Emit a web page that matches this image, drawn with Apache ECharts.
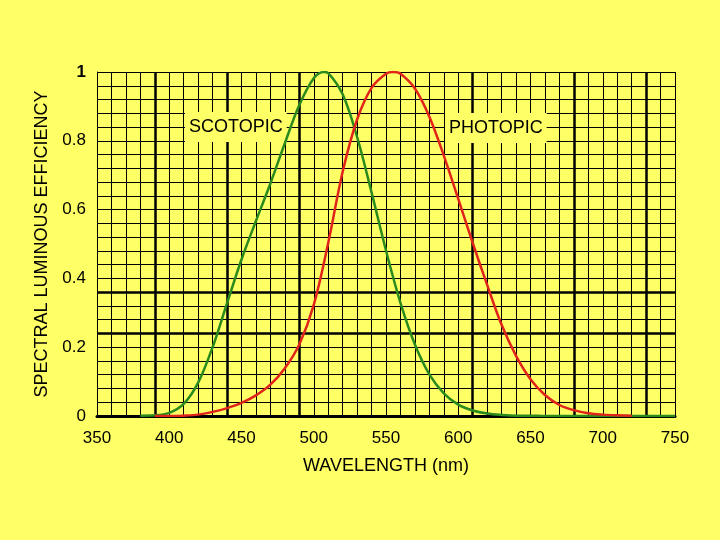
<!DOCTYPE html>
<html>
<head>
<meta charset="utf-8">
<script src="https://cdn.jsdelivr.net/npm/echarts@6/dist/echarts.min.js"></script>
<style>
html,body{margin:0;padding:0;background:#FFFF66;}
#main{width:720px;height:540px;}
</style>
</head>
<body>
<div id="main"></div>
<script>
// scotopic curve (green)
var scotopicNm  = [380,390,400,410,420,430,440,450,460,470,480,490,500,507,510,520,530,540,550,560,570,580,590,600,610,620,630,640,650,660,680,700,720,750];
var scotopicEff = [0.001,0.002,0.009,0.035,0.097,0.200,0.328,0.455,0.567,0.676,0.793,0.904,0.982,1.000,0.997,0.935,0.811,0.650,0.481,0.329,0.208,0.121,0.066,0.033,0.016,0.007,0.003,0.001,0.001,0,0,0,0,0];
// photopic curve (red)
var photopicNm  = [390,400,410,420,430,440,450,460,470,480,490,500,510,520,530,540,550,555,560,570,580,590,600,610,620,630,640,650,660,670,680,690,700,710,720];
var photopicEff = [0.000,0.000,0.001,0.004,0.012,0.023,0.038,0.060,0.091,0.139,0.208,0.323,0.503,0.710,0.862,0.954,0.995,1.000,0.995,0.952,0.870,0.757,0.631,0.503,0.381,0.265,0.175,0.107,0.061,0.032,0.017,0.008,0.004,0.002,0.001];
// heavier rulings of the graph paper
var thickNm  = [390,440,490,610,680,730];
var thickEff = [0.24,0.36];

function pairs(xs, ys){
	var out = [];
	for(var i=0;i<xs.length;i++){
		out.push([xs[i], ys[i]]);
	}
	return out;
}

var thickLines = [];
for(var i=0;i<thickNm.length;i++) thickLines.push({xAxis: thickNm[i]});
for(var j=0;j<thickEff.length;j++) thickLines.push({yAxis: thickEff[j]});

var font = 'Liberation Sans, Arial, sans-serif';
var chart = echarts.init(document.getElementById('main'));
chart.setOption({
	backgroundColor: '#FFFF66',
	animation: false,
	grid: {left: 97, right: 45, top: 72, bottom: 124},
	xAxis: {
		type: 'value', min: 350, max: 750, interval: 10,
		name: 'WAVELENGTH (nm)', nameLocation: 'middle', nameGap: 41,
		nameTextStyle: {color: '#000', fontSize: 18, fontFamily: font},
		axisLine: {show: true, lineStyle: {color: '#000', width: 3}},
		axisTick: {show: false},
		axisLabel: {
			color: '#000', fontSize: 17, fontFamily: font, margin: 14,
			formatter: function(v){ return v % 50 === 0 ? String(v) : ''; }
		},
		splitLine: {show: true, lineStyle: {color: '#000', width: 1}}
	},
	yAxis: {
		type: 'value', min: 0, max: 1, interval: 0.04,
		name: 'SPECTRAL LUMINOUS EFFICIENCY', nameLocation: 'middle', nameGap: 43,
		nameTextStyle: {color: '#000', fontSize: 18, fontFamily: font},
		axisLine: {show: true, lineStyle: {color: '#000', width: 1}},
		axisTick: {show: false},
		axisLabel: {
			color: '#000', fontSize: 17, fontFamily: font, margin: 11,
			formatter: function(v){
				var k = Math.round(v*100);
				if(k % 20 !== 0) return '';
				if(k === 100) return '{b|1}';
				return k === 0 ? '0' : String(k/100);
			},
			rich: {b: {fontWeight: 'bold', fontSize: 17, fontFamily: font, color: '#000'}}
		},
		splitLine: {show: true, lineStyle: {color: '#000', width: 1}}
	},
	graphic: [
		{type: 'text', left: 185, top: 112, z: 2,
			style: {text: 'SCOTOPIC', font: '18px ' + font, fill: '#000',
				backgroundColor: '#FFFF66', padding: [6, 4, 6, 4]}},
		{type: 'text', left: 445, top: 113, z: 2,
			style: {text: 'PHOTOPIC', font: '18px ' + font, fill: '#000',
				backgroundColor: '#FFFF66', padding: [6, 4, 6, 4]}}
	],
	series: [
		{
			type: 'line', data: [], z: 1,
			markLine: {
				z: 1, silent: true, symbol: ['none', 'none'],
				label: {show: false},
				lineStyle: {color: '#000', width: 2.5, type: 'solid'},
				data: thickLines
			}
		},
		{
			name: 'SCOTOPIC', type: 'line', z: 3, smooth: 0.35,
			showSymbol: false,
			lineStyle: {color: '#2a8a1c', width: 2.5},
			data: pairs(scotopicNm, scotopicEff)
		},
		{
			name: 'PHOTOPIC', type: 'line', z: 4, smooth: 0.35,
			showSymbol: false,
			lineStyle: {color: '#e0241a', width: 2.5},
			data: pairs(photopicNm, photopicEff)
		}
	]
});
</script>
</body>
</html>
